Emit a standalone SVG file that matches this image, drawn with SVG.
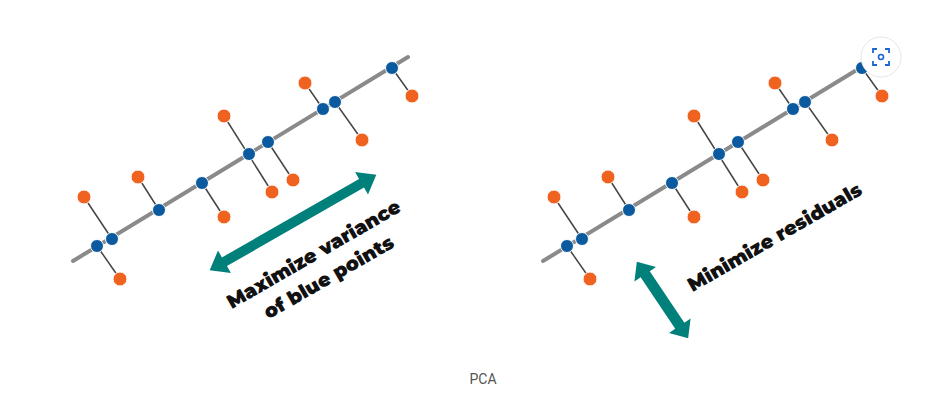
<svg xmlns="http://www.w3.org/2000/svg" width="948" height="401" viewBox="0 0 948 401">
<defs>
<style>
.axis{stroke:#8a8a8a;stroke-width:4;stroke-linecap:round}
.res{stroke:#444;stroke-width:1.5}
.b{fill:#0b5aa0;stroke:#fff;stroke-width:1}
.o{fill:#f0621f;stroke:#fff;stroke-width:1}
.lbl{font-family:"Montserrat","DejaVu Sans",sans-serif;font-weight:900;font-size:19.5px;fill:#111}
.arr{fill:#00807a}
</style>
<g id="panel">
<line class="axis" x1="73" y1="261" x2="408" y2="57"/>
<g class="res">
<line x1="84" y1="197" x2="112" y2="239"/><line x1="120" y1="279" x2="97" y2="246"/>
<line x1="138" y1="177" x2="159" y2="210"/><line x1="224" y1="217" x2="202" y2="183"/>
<line x1="224" y1="116" x2="272" y2="192"/><line x1="293" y1="180" x2="268" y2="142"/>
<line x1="305" y1="83" x2="323" y2="109"/><line x1="362" y1="140" x2="335" y2="102"/>
<line x1="412" y1="96" x2="392" y2="68"/>
</g>
<g class="o">
<circle cx="84" cy="197" r="7"/><circle cx="120" cy="279" r="7"/><circle cx="138" cy="177" r="7"/>
<circle cx="224" cy="217" r="7"/><circle cx="224" cy="116" r="7"/><circle cx="272" cy="192" r="7"/>
<circle cx="293" cy="180" r="7"/><circle cx="305" cy="83" r="7"/><circle cx="362" cy="140" r="7"/>
<circle cx="412" cy="96" r="7"/>
</g>
<g class="b">
<circle cx="97" cy="246" r="6.5"/><circle cx="112" cy="239" r="6.5"/><circle cx="159" cy="210" r="6.5"/>
<circle cx="202" cy="183" r="6.5"/><circle cx="249" cy="154" r="6.5"/><circle cx="268" cy="142" r="6.5"/>
<circle cx="323" cy="109" r="6.5"/><circle cx="335" cy="102" r="6.5"/><circle cx="392" cy="68" r="6.5"/>
</g>
</g>
</defs>
<rect width="948" height="401" fill="#fff"/>
<g id="left-panel"><use href="#panel"/></g>
<g id="right-panel"><use href="#panel" x="470"/></g>
<g id="connectors">
<g transform="translate(293,222.5) rotate(-29.8)">
<polygon class="arr" points="-96,0 -79,-13 -79,-5 79,-5 79,-13 96,0 79,13 79,5 -79,5 -79,13"/>
</g>
<g transform="translate(662.5,300) rotate(56.1)">
<polygon class="arr" points="-46,0 -31,-13 -31,-5.5 31,-5.5 31,-13 46,0 31,13 31,5.5 -31,5.5 -31,13"/>
</g>
</g>
<g id="label-left">
<text class="lbl" transform="translate(317,260) rotate(-30)" text-anchor="middle">Maximize variance</text>
<text class="lbl" transform="translate(332,283) rotate(-30)" text-anchor="middle">of blue points</text>
</g>
<g id="label-right">
<text class="lbl" transform="translate(778,243) rotate(-30)" text-anchor="middle">Minimize residuals</text>
</g>
<g id="lens">
<circle cx="881" cy="57" r="20" fill="#fff" stroke="#e6e6e6"/>
<path d="M873 53v-4h4M885 49h4v4M889 61v4h-4M877 65h-4v-4" fill="none" stroke="#1a66d2" stroke-width="1.8"/>
<circle cx="881" cy="57" r="2.5" fill="none" stroke="#1a66d2" stroke-width="1.6"/>
</g>
<text x="483" y="384" text-anchor="middle" font-family="Roboto, Arial, sans-serif" font-size="14" fill="#555">PCA</text>
</svg>
